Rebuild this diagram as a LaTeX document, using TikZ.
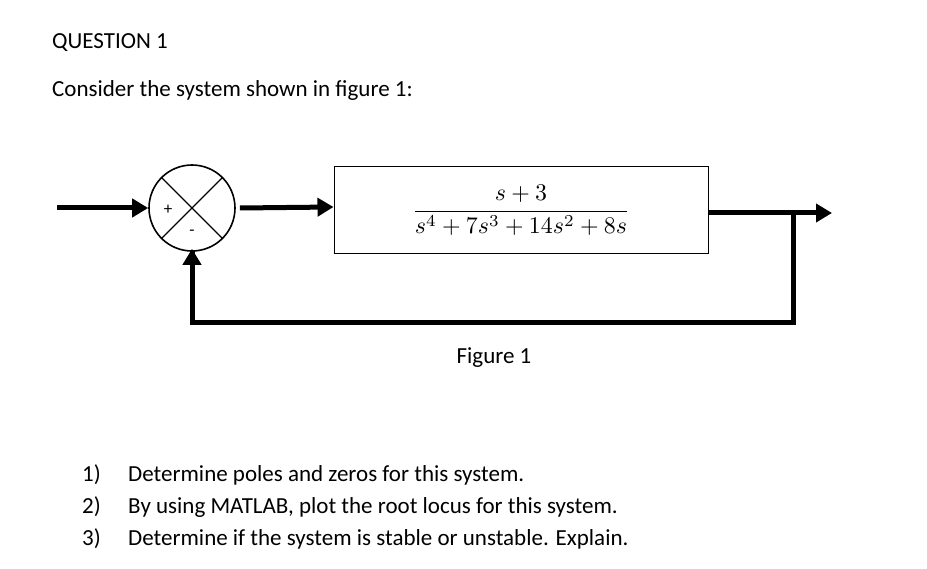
\documentclass[tikz,border=0pt]{standalone}
\usepackage{fontspec}
\setmainfont{Carlito}
\usetikzlibrary{arrows.meta}
\begin{document}
\begin{tikzpicture}[x=1pt,y=-1pt,
  sig/.style={line width=5pt,-{Triangle[length=16pt,width=18pt]}},
  fb/.style={line width=5pt},
  txt/.style={anchor=west,inner sep=0pt,font=\fontsize{23}{27}\selectfont}]
\useasboundingbox (0,0) rectangle (927,569);
\node[txt] (q) at (52,43) {QUESTION 1};
\node[txt] (c) at (52,90) {Consider the system shown in figure 1:};
\node[circle,draw,line width=1.6pt,minimum size=86pt,inner sep=0pt] (sum) at (192,208) {};
\draw[line width=1.3pt] (sum.north west) -- (sum.south east) (sum.north east) -- (sum.south west);
\node[font=\fontsize{17}{17}\selectfont] (plus) at (168,210) {+};
\node[font=\fontsize{17}{17}\selectfont] (minus) at (192,233) {-};
\node[draw,line width=1pt,minimum width=374pt,minimum height=87pt,inner sep=0pt] (G) at (521,210.5)
  {\resizebox{218pt}{!}{$\displaystyle\frac{s+3}{s^4+7s^3+14s^2+8s}$}};
\coordinate (in) at (57,208);
\coordinate (out) at (832,213);
\coordinate (br) at (793,213);
\coordinate (c1) at (793,323);
\coordinate (c2) at (192,323);
\draw[sig] (in) -- (sum.west);
\draw[sig] (sum.east) ++(4,0) -- (G.west |- 0,207);
\draw[sig] (G.east |- out) -- (out);
\draw[fb,line join=miter] (br) -- (c1) -- (c2) -- ([yshift=2pt]sum.south);
\draw[sig] (c2) -- ([yshift=3pt]sum.south);
\node[anchor=center,inner sep=0pt,font=\fontsize{23}{27}\selectfont] (f) at (494,358) {Figure 1};
\node[txt] (n1) at (82,475) {\makebox[46pt][l]{1)}Determine poles and zeros for this system.};
\node[txt] (n2) at (82,507) {\makebox[46pt][l]{2)}By using MATLAB, plot the root locus for this system.};
\node[txt] (n3) at (82,539) {\makebox[46pt][l]{3)}Determine if the system is stable or unstable. Explain.};
\end{tikzpicture}
\end{document}
